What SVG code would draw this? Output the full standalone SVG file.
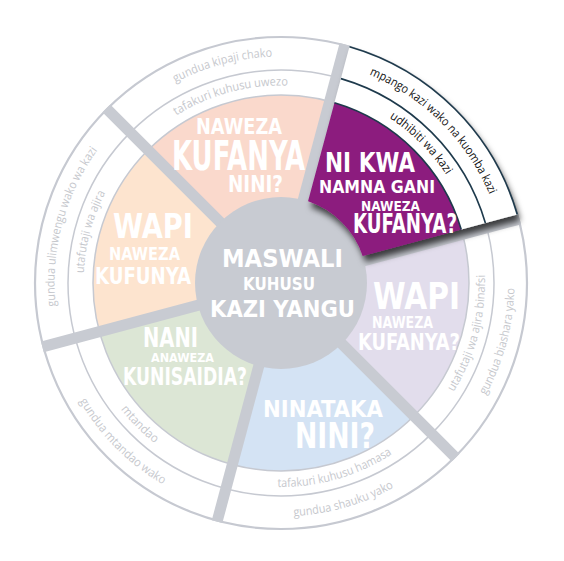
<svg xmlns="http://www.w3.org/2000/svg" width="564" height="561" viewBox="0 0 564 561">
<defs>
<style>
.ring{fill:none;stroke:#c6c9d1;stroke-width:1.5}
.band{stroke:#c8cbd2;stroke-width:11;stroke-linecap:butt}
.rt{font-family:"Open Sans","Noto Sans",sans-serif;font-size:12px;fill:#c6c8cd}
.pt{font-family:"Open Sans","Noto Sans",sans-serif;font-size:12px;fill:#141414}
.big{font-family:"DejaVu Sans Condensed","DejaVu Sans",sans-serif;font-weight:bold;fill:#ffffff}
.navy{fill:none;stroke:#1e3a4c;stroke-width:1.6}
</style>
<filter id="shadow" x="-20%" y="-20%" width="150%" height="150%">
<feDropShadow dx="3" dy="6" stdDeviation="3" flood-color="#000" flood-opacity="0.7"/>
</filter>
<path id="tp-top-in" d="M141.35,143.35 A197.5,197.5 0 0 1 332.12,92.23"/>
<path id="tp-top-out" d="M120.84,122.84 A226.5,226.5 0 0 1 339.62,64.22"/>
<path id="tp-left-in" d="M90.23,334.12 A197.5,197.5 0 0 1 141.35,143.35"/>
<path id="tp-left-out" d="M62.22,341.62 A226.5,226.5 0 0 1 120.84,122.84"/>
<path id="tp-pur-in" d="M332.12,92.23 A197.5,197.5 0 0 1 471.77,231.88"/>
<path id="tp-pur-out" d="M339.62,64.22 A226.5,226.5 0 0 1 499.78,224.38"/>
<path id="tp-lav-in" d="M425.25,427.25 A204,204 0 0 0 478.05,230.20"/>
<path id="tp-lav-out" d="M446.11,448.11 A233.5,233.5 0 0 0 506.54,222.57"/>
<path id="tp-blue-in" d="M231.65,480.94 A204,204 0 0 0 427.75,424.71"/>
<path id="tp-blue-out" d="M224.51,509.57 A233.5,233.5 0 0 0 448.97,445.20"/>
<path id="tp-green-in" d="M83.95,335.80 A204,204 0 0 0 228.20,480.05"/>
<path id="tp-green-out" d="M55.46,343.43 A233.5,233.5 0 0 0 220.57,508.54"/>
</defs>

<g id="rings">
<circle cx="281" cy="283" r="246" fill="#ffffff" stroke="#c6c9d1" stroke-width="2.2"/>
<circle class="ring" cx="281" cy="283" r="213"/>
</g>

<g id="sector-top">
<path d="M281,283 L148.06,150.06 A188,188 0 0 1 329.66,101.41 Z" fill="#fad9cc"/>
<text class="rt" text-anchor="middle"><textPath href="#tp-top-in" startOffset="50%" textLength="117" lengthAdjust="spacingAndGlyphs">tafakuri kuhusu uwezo</textPath></text>
<text class="rt" text-anchor="middle"><textPath href="#tp-top-out" startOffset="50%" textLength="101" lengthAdjust="spacingAndGlyphs">gundua kipaji chako</textPath></text>
</g>

<g id="sector-left">
<path d="M281,283 L99.41,331.66 A188,188 0 0 1 148.06,150.06 Z" fill="#fde4cf"/>
<text class="rt" text-anchor="middle"><textPath href="#tp-left-in" startOffset="50%" textLength="84" lengthAdjust="spacingAndGlyphs">utafutaji wa ajira</textPath></text>
<text class="rt" text-anchor="middle"><textPath href="#tp-left-out" startOffset="50%" textLength="165" lengthAdjust="spacingAndGlyphs">gundua ulimwengu wako wa kazi</textPath></text>
</g>

<g id="sector-right">
<path d="M281,283 L462.59,234.34 A188,188 0 0 1 413.94,415.94 Z" fill="#e2ddec"/>
<text class="rt" text-anchor="middle"><textPath href="#tp-lav-in" startOffset="50%" textLength="123" lengthAdjust="spacingAndGlyphs">utafutaji wa ajira binafsi</textPath></text>
<text class="rt" text-anchor="middle"><textPath href="#tp-lav-out" startOffset="50%" textLength="112" lengthAdjust="spacingAndGlyphs">gundua biashara yako</textPath></text>
</g>

<g id="sector-bottom">
<path d="M281,283 L413.94,415.94 A188,188 0 0 1 232.34,464.59 Z" fill="#d4e3f4"/>
<text class="rt" text-anchor="middle"><textPath href="#tp-blue-in" startOffset="50%" textLength="121" lengthAdjust="spacingAndGlyphs">tafakuri kuhusu hamasa</textPath></text>
<text class="rt" text-anchor="middle"><textPath href="#tp-blue-out" startOffset="50%" textLength="105" lengthAdjust="spacingAndGlyphs">gundua shauku yako</textPath></text>
</g>

<g id="sector-bottom-left">
<path d="M281,283 L232.34,464.59 A188,188 0 0 1 99.41,331.66 Z" fill="#dce6d5"/>
<text class="rt" text-anchor="middle"><textPath href="#tp-green-in" startOffset="50%" textLength="48" lengthAdjust="spacingAndGlyphs">mtandao</textPath></text>
<text class="rt" text-anchor="middle"><textPath href="#tp-green-out" startOffset="50%" textLength="119" lengthAdjust="spacingAndGlyphs">gundua mtandao wako</textPath></text>
</g>

<circle class="ring" cx="281" cy="283" r="188"/>

<g id="connectors">
<line class="band" x1="281" y1="283" x2="106.35" y2="108.35"/>
<line class="band" x1="281" y1="283" x2="344.93" y2="44.41"/>
<line class="band" x1="281" y1="283" x2="519.59" y2="219.07"/>
<line class="band" x1="281" y1="283" x2="455.65" y2="457.65"/>
<line class="band" x1="281" y1="283" x2="217.07" y2="521.59"/>
<line class="band" x1="281" y1="283" x2="42.41" y2="346.93"/>
</g>

<g id="center">
<circle cx="281" cy="283" r="86" fill="#c8cbd2"/>
<text class="big" x="222" y="267" font-size="24" textLength="121" lengthAdjust="spacingAndGlyphs">MASWALI</text>
<text class="big" x="243" y="290" font-size="18" textLength="72" lengthAdjust="spacingAndGlyphs">KUHUSU</text>
<text class="big" x="210" y="317" font-size="23.5" textLength="145" lengthAdjust="spacingAndGlyphs">KAZI YANGU</text>
</g>

<g id="labels-pastel">
<text class="big" x="196" y="134" font-size="22" textLength="86" lengthAdjust="spacingAndGlyphs">NAWEZA</text>
<text class="big" x="172" y="170" font-size="40" textLength="133" lengthAdjust="spacingAndGlyphs">KUFANYA</text>
<text class="big" x="228" y="192" font-size="23.5" textLength="55" lengthAdjust="spacingAndGlyphs">NINI?</text>

<text class="big" x="113" y="238" font-size="34" textLength="80" lengthAdjust="spacingAndGlyphs">WAPI</text>
<text class="big" x="109" y="260" font-size="18" textLength="71" lengthAdjust="spacingAndGlyphs">NAWEZA</text>
<text class="big" x="95" y="284" font-size="23.5" textLength="96" lengthAdjust="spacingAndGlyphs">KUFUNYA</text>

<text class="big" x="373" y="309" font-size="37" textLength="87" lengthAdjust="spacingAndGlyphs">WAPI</text>
<text class="big" x="372" y="328" font-size="15" textLength="61" lengthAdjust="spacingAndGlyphs">NAWEZA</text>
<text class="big" x="358" y="350" font-size="23.5" textLength="102" lengthAdjust="spacingAndGlyphs">KUFANYA?</text>

<text class="big" x="263" y="417" font-size="23.5" textLength="120" lengthAdjust="spacingAndGlyphs">NINATAKA</text>
<text class="big" x="295" y="448" font-size="36" textLength="80" lengthAdjust="spacingAndGlyphs">NINI?</text>

<text class="big" x="143" y="347" font-size="26" textLength="55" lengthAdjust="spacingAndGlyphs">NANI</text>
<text class="big" x="151" y="362" font-size="12.5" textLength="63" lengthAdjust="spacingAndGlyphs">ANAWEZA</text>
<text class="big" x="123" y="385" font-size="25" textLength="124" lengthAdjust="spacingAndGlyphs">KUNISAIDIA?</text>
</g>

<g id="sector-top-right">
<g filter="url(#shadow)">
<path d="M349.49,46.73 A246,246 0 0 1 517.27,214.51 L461.24,229.53 A188,188 0 0 0 334.47,102.76 Z" fill="#ffffff"/>
<path d="M334.47,102.76 A188,188 0 0 1 461.24,229.53 L362.63,255.95 A86,86 0 0 0 308.05,201.37 Z" fill="#8c1a7e"/>
</g>
<path class="navy" d="M349.49,46.73 A246,246 0 0 1 517.27,214.51"/>
<path class="navy" d="M340.95,78.61 A213,213 0 0 1 485.39,223.05"/>
<path class="navy" d="M334.47,102.76 A188,188 0 0 1 461.24,229.53"/>
<text class="pt" text-anchor="middle"><textPath href="#tp-pur-in" startOffset="50%" textLength="81" lengthAdjust="spacingAndGlyphs">udhibiti wa kazi</textPath></text>
<text class="pt" text-anchor="middle"><textPath href="#tp-pur-out" startOffset="50%" textLength="174" lengthAdjust="spacingAndGlyphs">mpango kazi wako na kuomba kazi</textPath></text>
<text class="big" x="325" y="172" font-size="26" textLength="90" lengthAdjust="spacingAndGlyphs">NI KWA</text>
<text class="big" x="319" y="193" font-size="18" textLength="116" lengthAdjust="spacingAndGlyphs">NAMNA GANI</text>
<text class="big" x="361" y="211" font-size="13.5" textLength="59" lengthAdjust="spacingAndGlyphs">NAWEZA</text>
<text class="big" x="353" y="233" font-size="26.5" textLength="104" lengthAdjust="spacingAndGlyphs">KUFANYA?</text>
</g>
</svg>
